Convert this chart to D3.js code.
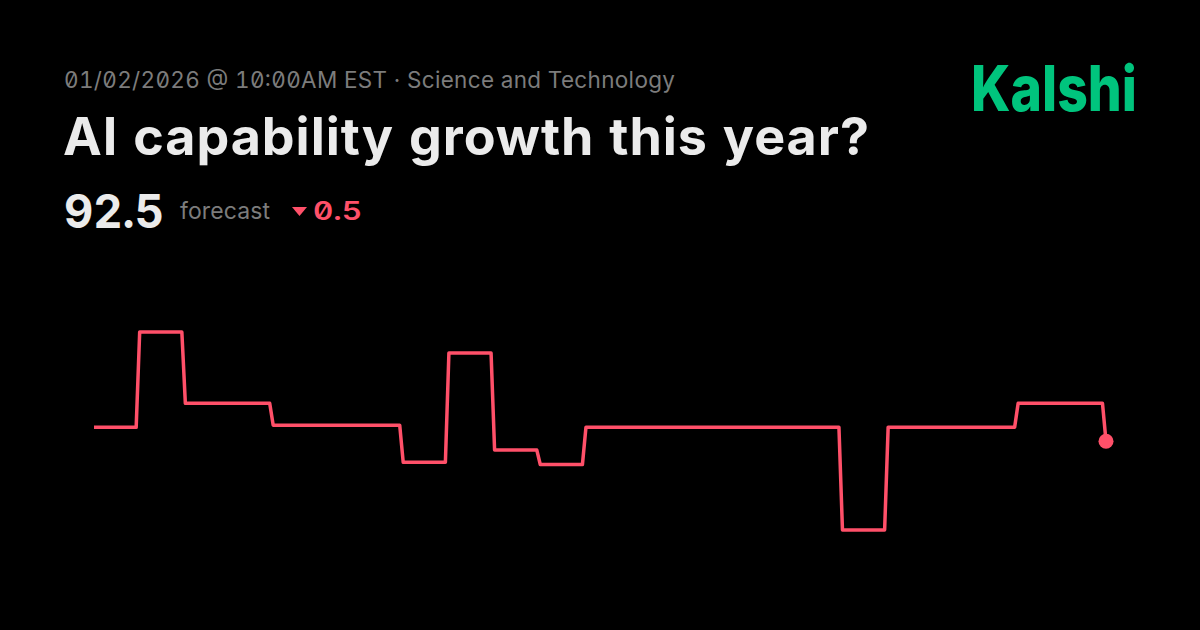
<!DOCTYPE html>
<html>
<head>
<meta charset="utf-8">
<script src="https://cdn.jsdelivr.net/npm/d3@7"></script>
<style>
  html, body { margin: 0; padding: 0; background: #000; }
  svg { display: block; }
  text { font-family: Inter, "Noto Sans", sans-serif; font-feature-settings: "zero" 1, "tnum" 1; }
</style>
</head>
<body>
<svg id="chart"></svg>
<script>
// forecast history: step index and forecast value at each turn of the line
const steps = [0, 12, 13, 25, 26, 50, 51, 87, 88, 100, 101, 113, 114, 126, 127, 139, 140, 212, 213, 225, 226, 262, 263, 287, 288];
const values = [92.69, 92.69, 94.0, 94.0, 93.02, 93.02, 92.72, 92.72, 92.21, 92.21, 93.71, 93.71, 92.38, 92.38, 92.18, 92.18, 92.69, 92.69, 91.28, 91.28, 92.69, 92.69, 93.02, 93.02, 92.5];

const subtitle = "01/02/2026 @ 10:00AM EST \u00b7 Science and Technology";
const title = "AI capability growth this year?";
const forecast = "92.5";
const change = "0.5";

function makeChart() {
  let w = 1200;
  let h = 630;
  let red = "#ff5069";
  let grey = "#7c7c7c";

  let svg = d3.select("#chart")
    .attr("width", w)
    .attr("height", h);

  svg.append("rect").attr("width", w).attr("height", h).attr("fill", "#000");

  // header
  svg.append("text")
    .attr("x", 64).attr("y", 87.5)
    .attr("font-size", 22.5)
    .attr("fill", grey)
    .attr("textLength", 611)
    .attr("lengthAdjust", "spacing")
    .text(subtitle);

  svg.append("text")
    .attr("x", 63).attr("y", 155)
    .attr("font-size", 52)
    .attr("font-weight", 700)
    .attr("fill", "#ebebeb")
    .attr("textLength", 806)
    .attr("lengthAdjust", "spacing")
    .text(title);

  svg.append("text")
    .attr("x", 64).attr("y", 227.5)
    .attr("font-size", 47)
    .attr("font-weight", 700)
    .attr("fill", "#ebebeb")
    .attr("textLength", 100)
    .attr("lengthAdjust", "spacingAndGlyphs")
    .text(forecast);

  svg.append("text")
    .attr("x", 180).attr("y", 218.5)
    .attr("font-size", 23)
    .attr("fill", grey)
    .attr("textLength", 90)
    .attr("lengthAdjust", "spacing")
    .text("forecast");

  svg.append("path")
    .attr("d", "M292,207 L307,207 L299.5,216 Z")
    .attr("fill", red);

  svg.append("text")
    .attr("x", 313).attr("y", 219.5)
    .attr("font-size", 25)
    .attr("font-weight", 600)
    .attr("fill", red)
    .attr("textLength", 49)
    .attr("lengthAdjust", "spacingAndGlyphs")
    .text(change);

  // logo
  svg.append("text")
    .attr("x", 971).attr("y", 111)
    .attr("font-size", 63)
    .attr("font-weight", 800)
    .attr("fill", "#00c47d")
    .attr("textLength", 166)
    .attr("lengthAdjust", "spacingAndGlyphs")
    .text("Kalshi");

  // line
  let xScale = d3.scaleLinear()
    .domain(d3.extent(steps))
    .range([94, 1106]);

  let yScale = d3.scaleLinear()
    .domain([91.28, 94.0])
    .range([530, 332]);

  let points = steps.map((s, i) => [s, values[i]]);

  let line = d3.line()
    .x(d => xScale(d[0]))
    .y(d => yScale(d[1]));

  svg.append("path")
    .datum(points)
    .attr("d", line)
    .attr("fill", "none")
    .attr("stroke", red)
    .attr("stroke-width", 3.5)
    .attr("stroke-linejoin", "round");

  let last = points[points.length - 1];
  svg.append("circle")
    .attr("cx", xScale(last[0]))
    .attr("cy", yScale(last[1]))
    .attr("r", 7.5)
    .attr("fill", red);
}

makeChart();
</script>
</body>
</html>
